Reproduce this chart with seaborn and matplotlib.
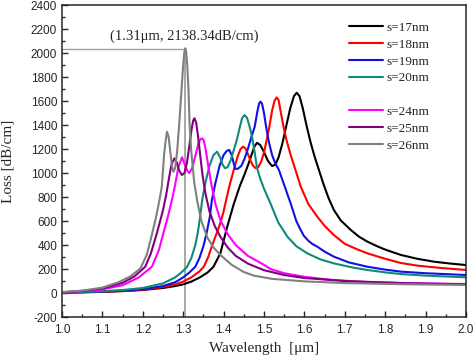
import numpy as np
import pandas as pd
import matplotlib
matplotlib.use("Agg")
import matplotlib.pyplot as plt
from matplotlib.lines import Line2D
import seaborn as sns

# Values (wavelength in um, loss in dB/cm)
x17 = [1.00, 1.05, 1.10, 1.15, 1.20, 1.25, 1.28, 1.30, 1.32, 1.34, 1.36, 1.375, 1.392, 1.409, 1.425,
       1.44, 1.452, 1.462, 1.470, 1.477, 1.483, 1.491, 1.500, 1.510, 1.520, 1.528, 1.536, 1.545, 1.555,
       1.565, 1.574, 1.581, 1.588, 1.596, 1.605, 1.615, 1.625, 1.636, 1.648, 1.660, 1.673, 1.69, 1.715,
       1.735, 1.756, 1.78, 1.80, 1.839, 1.88, 1.921, 1.96, 2.00]
y17 = [3, 6, 10, 16, 25, 42, 58, 72, 95, 128, 170, 219, 331, 552, 740,
       890, 990, 1080, 1160, 1225, 1252, 1232, 1175, 1100, 1058, 1070, 1130, 1240, 1390,
       1540, 1640, 1669, 1640, 1540, 1400, 1260, 1140, 1025, 900, 790, 692, 605, 525,
       470, 428, 390, 362, 317, 285, 261, 246, 233]

x18 = [1.00, 1.05, 1.10, 1.15, 1.20, 1.25, 1.28, 1.30, 1.32, 1.34, 1.351, 1.362, 1.372, 1.382, 1.392,
       1.400, 1.408, 1.415, 1.425, 1.435, 1.442, 1.448, 1.454, 1.460, 1.467, 1.473, 1.479, 1.486, 1.493,
       1.500, 1.507, 1.514, 1.520, 1.526, 1.531, 1.536, 1.542, 1.548, 1.556, 1.566, 1.578, 1.591, 1.61,
       1.632, 1.65, 1.673, 1.70, 1.73, 1.756, 1.80, 1.839, 1.88, 1.94, 2.00]
y18 = [3, 6, 10, 17, 28, 50, 72, 95, 130, 180, 219, 300, 400, 490, 583,
       680, 800, 900, 1025, 1140, 1200, 1220, 1205, 1160, 1100, 1060, 1042, 1050, 1095,
       1170, 1280, 1400, 1520, 1600, 1630, 1610, 1500, 1390, 1270, 1150, 1025, 886, 740,
       636, 560, 483, 410, 365, 331, 285, 250, 228, 208, 192]

x19 = [1.00, 1.05, 1.10, 1.15, 1.20, 1.25, 1.28, 1.30, 1.315, 1.33, 1.34, 1.35, 1.358, 1.366, 1.371,
       1.380, 1.390, 1.400, 1.408, 1.414, 1.420, 1.425, 1.429, 1.435, 1.444, 1.452, 1.460, 1.468, 1.477,
       1.484, 1.488, 1.491, 1.495, 1.500, 1.505, 1.512, 1.520, 1.528, 1.537, 1.55, 1.566, 1.58, 1.59,
       1.599, 1.61, 1.62, 1.632, 1.65, 1.673, 1.71, 1.756, 1.80, 1.839, 1.90, 2.00]
y19 = [4, 7, 12, 20, 32, 58, 90, 130, 170, 219, 290, 390, 500, 636, 775,
       920, 1060, 1150, 1185, 1192, 1150, 1080, 1035, 1035, 1060, 1120, 1200, 1290, 1386,
       1520, 1580, 1595, 1580, 1500, 1390, 1260, 1150, 1080, 1025, 900, 747, 600, 530,
       475, 435, 408, 386, 345, 303, 255, 219, 195, 178, 165, 150]

x20 = [1.00, 1.05, 1.10, 1.15, 1.20, 1.25, 1.28, 1.295, 1.309, 1.32, 1.33, 1.336, 1.342, 1.347, 1.355,
       1.365, 1.375, 1.384, 1.392, 1.398, 1.404, 1.410, 1.418, 1.426, 1.433, 1.440, 1.446, 1.452, 1.458,
       1.465, 1.471, 1.477, 1.483, 1.491, 1.50, 1.516, 1.535, 1.558, 1.58, 1.607, 1.64, 1.673, 1.72,
       1.756, 1.80, 1.839, 1.90, 2.00]
y20 = [5, 9, 15, 25, 42, 80, 130, 170, 215, 290, 400, 500, 636, 775, 920,
       1060, 1150, 1178, 1125, 1065, 1040, 1050, 1110, 1200, 1280, 1380, 1460, 1483, 1460,
       1380, 1290, 1170, 1040, 950, 870, 747, 590, 469, 390, 331, 280, 247, 212,
       192, 172, 158, 145, 131]

x24 = [1.00, 1.05, 1.10, 1.15, 1.19, 1.2225, 1.24, 1.251, 1.260, 1.266, 1.272, 1.280, 1.288, 1.297, 1.304,
       1.310, 1.315, 1.322, 1.330, 1.338, 1.343, 1.347, 1.351, 1.356, 1.362, 1.370, 1.380, 1.392, 1.41,
       1.43, 1.46, 1.50, 1.516, 1.55, 1.60, 1.665, 1.75, 1.85, 2.00]
y24 = [5, 15, 30, 65, 130, 219, 360, 500, 610, 690, 775, 900, 1050, 1131, 1070,
       1020, 1000, 1040, 1140, 1250, 1283, 1289, 1270, 1190, 1060, 900, 740, 608, 490,
       400, 310, 235, 200, 165, 135, 110, 92, 82, 75]

x25 = [1.00, 1.05, 1.10, 1.15, 1.18, 1.206, 1.22, 1.235, 1.25, 1.258, 1.265, 1.271, 1.278, 1.284, 1.290,
       1.297, 1.303, 1.309, 1.315, 1.321, 1.325, 1.328, 1.332, 1.337, 1.342, 1.348, 1.355, 1.365, 1.378,
       1.392, 1.41, 1.43, 1.46, 1.50, 1.55, 1.60, 1.70, 1.85, 2.00]
y25 = [6, 18, 38, 85, 140, 219, 330, 500, 690, 820, 960, 1070, 1122, 1090, 1020,
       983, 1000, 1080, 1220, 1370, 1440, 1456, 1420, 1300, 1150, 980, 830, 680, 560,
       469, 380, 310, 245, 190, 150, 125, 100, 82, 72]

x26 = [1.00, 1.05, 1.10, 1.14, 1.17, 1.194, 1.21, 1.222, 1.232, 1.241, 1.247, 1.253, 1.257, 1.260, 1.264,
       1.268, 1.272, 1.276, 1.280, 1.285, 1.290, 1.295, 1.300, 1.303, 1.305, 1.307, 1.310, 1.313, 1.316,
       1.320, 1.327, 1.335, 1.345, 1.36, 1.375, 1.392, 1.42, 1.45, 1.475, 1.52, 1.60, 1.70, 1.85, 2.00]
y26 = [8, 20, 45, 90, 140, 205, 320, 480, 620, 770, 886, 1164, 1280, 1344, 1300,
       1180, 1060, 1010, 1040, 1180, 1400, 1650, 1900, 2010, 2040, 2020, 1900, 1700, 1400,
       1180, 930, 760, 600, 460, 380, 317, 235, 175, 145, 118, 97, 83, 73, 67]

labels = ["s=17nm", "s=18nm", "s=19nm", "s=20nm", "s=24nm", "s=25nm", "s=26nm"]
colors = ["#000000", "#ff0000", "#1010e8", "#0f8a78", "#ff00ff", "#800080", "#808080"]
series = [(x17, y17), (x18, y18), (x19, y19), (x20, y20), (x24, y24), (x25, y25), (x26, y26)]

peak_x, peak_y = 1.305, 2030
note = "(1.31μm, 2138.34dB/cm)"

sns.set_style("ticks")
plt.rcParams["axes.unicode_minus"] = False
plt.rcParams["font.family"] = ["Liberation Sans", "DejaVu Sans"]

fig = plt.figure(figsize=(4.74, 3.57), dpi=100)
ax = fig.add_axes([0.1308, 0.112, 0.8523, 0.8739])

# reference guide lines to the s=26nm peak
ax.plot([1.0, peak_x], [peak_y, peak_y], color="#a0a0a0", lw=1.0)
ax.plot([peak_x, peak_x], [-200, peak_y], color="#a0a0a0", lw=1.3)

handles = []
for (xs, ys), lab, c in zip(series, labels, colors):
    df = pd.DataFrame({"x": xs, "y": ys})
    sns.lineplot(data=df, x="x", y="y", ax=ax, color=c, lw=1.5, legend=False)
    handles.append(Line2D([], [], color=c, lw=1.5, label=lab))

blank = Line2D([], [], color="none", label=" ")
leg_handles = handles[:4] + [blank] + handles[4:]
ax.legend(handles=leg_handles, loc="upper right", bbox_to_anchor=(0.94, 0.985), frameon=False,
          prop={"family": "Liberation Serif", "size": 9.5}, handlelength=2.6, handletextpad=0.3,
          labelspacing=0.35)

ax.text(peak_x - 0.003, 2140, note, ha="center", va="center", fontsize=10.5, family="Liberation Serif")

ax.set_xlim(1.0, 2.0)
ax.set_ylim(-200, 2400)
ax.set_xticks(np.arange(1.0, 2.01, 0.1))
ax.set_xticks(np.arange(1.05, 2.0, 0.1), minor=True)
ax.set_yticks(np.arange(-200, 2401, 200))
ax.set_yticks(np.arange(-100, 2400, 200), minor=True)
ax.set_xticklabels([f"{v:.1f}" for v in np.arange(1.0, 2.01, 0.1)])
ax.tick_params(which="both", direction="in", labelsize=8.5, top=False, right=False)
ax.tick_params(which="major", length=4, width=1)
ax.tick_params(which="minor", length=2.5, width=1)
ax.tick_params(axis="x", pad=5)
for s in ax.spines.values():
    s.set_linewidth(1.1)

ax.set_xlabel("Wavelength  [μm]", family="Liberation Serif", fontsize=11, labelpad=4)
ax.set_ylabel("Loss [dB/cm]", family="Liberation Serif", fontsize=11)
ax.yaxis.set_label_coords(-0.118, 0.5)

fig.savefig("out.png", dpi=100)
